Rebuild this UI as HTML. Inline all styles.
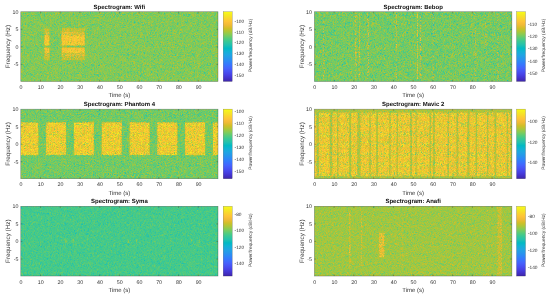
<!DOCTYPE html>
<html lang="en"><head><meta charset="utf-8"><title>Spectrograms</title>
<style>html,body{margin:0;padding:0;background:#fff;}svg{display:block;}text{font-family:"Liberation Sans", Arial, Helvetica, sans-serif;fill:#333333;text-rendering:geometricPrecision;}</style></head>
<body>
<svg width="550" height="297" viewBox="0 0 550 297">
<defs>
<linearGradient id="cb" x1="0" y1="1" x2="0" y2="0"><stop offset="0.0000" stop-color="#3e26a8"/><stop offset="0.0476" stop-color="#4332cb"/><stop offset="0.0952" stop-color="#4741e5"/><stop offset="0.1429" stop-color="#4852f4"/><stop offset="0.1905" stop-color="#4563fd"/><stop offset="0.2381" stop-color="#3875fe"/><stop offset="0.2857" stop-color="#2e87f7"/><stop offset="0.3333" stop-color="#2797eb"/><stop offset="0.3810" stop-color="#20a5e3"/><stop offset="0.4286" stop-color="#12b1d6"/><stop offset="0.4762" stop-color="#02bac3"/><stop offset="0.5238" stop-color="#24c1ae"/><stop offset="0.5714" stop-color="#37c897"/><stop offset="0.6190" stop-color="#57cc7a"/><stop offset="0.6667" stop-color="#81cc59"/><stop offset="0.7143" stop-color="#abc739"/><stop offset="0.7619" stop-color="#d1bf27"/><stop offset="0.8095" stop-color="#f0ba36"/><stop offset="0.8571" stop-color="#fec338"/><stop offset="0.9048" stop-color="#fad62d"/><stop offset="0.9524" stop-color="#f5e924"/><stop offset="1.0000" stop-color="#f9fb15"/></linearGradient>
<filter id="f0" x="0" y="0" width="1" height="1" filterUnits="objectBoundingBox" color-interpolation-filters="sRGB"><feTurbulence type="fractalNoise" baseFrequency="2.3 2.9" numOctaves="1" seed="3" result="n"/><feColorMatrix in="SourceGraphic" type="matrix" values="0 1 0 0 0 0 1 0 0 0 0 1 0 0 0 0 0 0 0 1" result="m"/><feColorMatrix in="SourceGraphic" type="matrix" values="1 0 0 0 0 1 0 0 0 0 1 0 0 0 0 0 0 0 0 1" result="l"/><feColorMatrix in="n" type="matrix" values="1 0 0 0 0 1 0 0 0 0 1 0 0 0 0 0 0 0 0 1"/><feComponentTransfer><feFuncR type="table" tableValues="0.179 0.179 0.179 0.179 0.210 0.245 0.278 0.308 0.337 0.363 0.388 0.411 0.433 0.453 0.472 0.490 0.506 0.522 0.537 0.551 0.564 0.577 0.589 0.600 0.611 0.621 0.631 0.639 0.639 0.639 0.639"/><feFuncG type="table" tableValues="0.179 0.179 0.179 0.179 0.210 0.245 0.278 0.308 0.337 0.363 0.388 0.411 0.433 0.453 0.472 0.490 0.506 0.522 0.537 0.551 0.564 0.577 0.589 0.600 0.611 0.621 0.631 0.639 0.639 0.639 0.639"/><feFuncB type="table" tableValues="0.179 0.179 0.179 0.179 0.210 0.245 0.278 0.308 0.337 0.363 0.388 0.411 0.433 0.453 0.472 0.490 0.506 0.522 0.537 0.551 0.564 0.577 0.589 0.600 0.611 0.621 0.631 0.639 0.639 0.639 0.639"/></feComponentTransfer><feComposite in="m" operator="arithmetic" k1="2" k2="-1" k3="0" k4="0.5" result="q"/><feComposite in="l" in2="q" operator="arithmetic" k1="0" k2="1" k3="0.9317" k4="-0.4658"/><feComponentTransfer result="cR"><feFuncR type="table" tableValues="0.242 0.250 0.258 0.265 0.271 0.275 0.278 0.280 0.281 0.281 0.280 0.276 0.270 0.260 0.244 0.221 0.196 0.183 0.179 0.176 0.169 0.154 0.146 0.138 0.125 0.111 0.095 0.069 0.030 0.004 0.007 0.043 0.096 0.141 0.172 0.194 0.216 0.247 0.291 0.341 0.391 0.446 0.504 0.562 0.617 0.672 0.724 0.774 0.820 0.863 0.903 0.939 0.973 0.996 0.997 0.995 0.989 0.979 0.968 0.961 0.960 0.963 0.969 0.977"/><feFuncG type="table" tableValues="0.150 0.165 0.182 0.198 0.215 0.234 0.256 0.278 0.301 0.323 0.345 0.367 0.389 0.412 0.436 0.460 0.485 0.507 0.529 0.550 0.570 0.590 0.609 0.628 0.646 0.663 0.680 0.695 0.708 0.720 0.731 0.741 0.750 0.758 0.767 0.776 0.784 0.792 0.797 0.801 0.803 0.802 0.799 0.794 0.788 0.779 0.770 0.760 0.750 0.741 0.733 0.729 0.730 0.743 0.766 0.789 0.814 0.839 0.864 0.889 0.913 0.937 0.961 0.984"/><feFuncB type="table" tableValues="0.660 0.708 0.751 0.795 0.836 0.871 0.899 0.922 0.941 0.958 0.972 0.983 0.991 0.995 0.999 0.997 0.989 0.980 0.968 0.952 0.936 0.922 0.908 0.897 0.888 0.876 0.860 0.839 0.816 0.792 0.766 0.739 0.712 0.684 0.655 0.625 0.592 0.557 0.519 0.479 0.435 0.391 0.348 0.304 0.261 0.223 0.191 0.165 0.153 0.160 0.177 0.210 0.239 0.237 0.220 0.203 0.189 0.177 0.164 0.154 0.142 0.127 0.106 0.081"/></feComponentTransfer><feColorMatrix in="n" type="matrix" values="0 1 0 0 0 0 1 0 0 0 0 1 0 0 0 0 0 0 0 1"/><feComponentTransfer><feFuncR type="table" tableValues="0.179 0.179 0.179 0.179 0.210 0.245 0.278 0.308 0.337 0.363 0.388 0.411 0.433 0.453 0.472 0.490 0.506 0.522 0.537 0.551 0.564 0.577 0.589 0.600 0.611 0.621 0.631 0.639 0.639 0.639 0.639"/><feFuncG type="table" tableValues="0.179 0.179 0.179 0.179 0.210 0.245 0.278 0.308 0.337 0.363 0.388 0.411 0.433 0.453 0.472 0.490 0.506 0.522 0.537 0.551 0.564 0.577 0.589 0.600 0.611 0.621 0.631 0.639 0.639 0.639 0.639"/><feFuncB type="table" tableValues="0.179 0.179 0.179 0.179 0.210 0.245 0.278 0.308 0.337 0.363 0.388 0.411 0.433 0.453 0.472 0.490 0.506 0.522 0.537 0.551 0.564 0.577 0.589 0.600 0.611 0.621 0.631 0.639 0.639 0.639 0.639"/></feComponentTransfer><feComposite in="m" operator="arithmetic" k1="2" k2="-1" k3="0" k4="0.5" result="q"/><feComposite in="l" in2="q" operator="arithmetic" k1="0" k2="1" k3="0.9317" k4="-0.4658"/><feComponentTransfer result="cG"><feFuncR type="table" tableValues="0.242 0.250 0.258 0.265 0.271 0.275 0.278 0.280 0.281 0.281 0.280 0.276 0.270 0.260 0.244 0.221 0.196 0.183 0.179 0.176 0.169 0.154 0.146 0.138 0.125 0.111 0.095 0.069 0.030 0.004 0.007 0.043 0.096 0.141 0.172 0.194 0.216 0.247 0.291 0.341 0.391 0.446 0.504 0.562 0.617 0.672 0.724 0.774 0.820 0.863 0.903 0.939 0.973 0.996 0.997 0.995 0.989 0.979 0.968 0.961 0.960 0.963 0.969 0.977"/><feFuncG type="table" tableValues="0.150 0.165 0.182 0.198 0.215 0.234 0.256 0.278 0.301 0.323 0.345 0.367 0.389 0.412 0.436 0.460 0.485 0.507 0.529 0.550 0.570 0.590 0.609 0.628 0.646 0.663 0.680 0.695 0.708 0.720 0.731 0.741 0.750 0.758 0.767 0.776 0.784 0.792 0.797 0.801 0.803 0.802 0.799 0.794 0.788 0.779 0.770 0.760 0.750 0.741 0.733 0.729 0.730 0.743 0.766 0.789 0.814 0.839 0.864 0.889 0.913 0.937 0.961 0.984"/><feFuncB type="table" tableValues="0.660 0.708 0.751 0.795 0.836 0.871 0.899 0.922 0.941 0.958 0.972 0.983 0.991 0.995 0.999 0.997 0.989 0.980 0.968 0.952 0.936 0.922 0.908 0.897 0.888 0.876 0.860 0.839 0.816 0.792 0.766 0.739 0.712 0.684 0.655 0.625 0.592 0.557 0.519 0.479 0.435 0.391 0.348 0.304 0.261 0.223 0.191 0.165 0.153 0.160 0.177 0.210 0.239 0.237 0.220 0.203 0.189 0.177 0.164 0.154 0.142 0.127 0.106 0.081"/></feComponentTransfer><feColorMatrix in="n" type="matrix" values="0 0 1 0 0 0 0 1 0 0 0 0 1 0 0 0 0 0 0 1"/><feComponentTransfer><feFuncR type="table" tableValues="0.179 0.179 0.179 0.179 0.210 0.245 0.278 0.308 0.337 0.363 0.388 0.411 0.433 0.453 0.472 0.490 0.506 0.522 0.537 0.551 0.564 0.577 0.589 0.600 0.611 0.621 0.631 0.639 0.639 0.639 0.639"/><feFuncG type="table" tableValues="0.179 0.179 0.179 0.179 0.210 0.245 0.278 0.308 0.337 0.363 0.388 0.411 0.433 0.453 0.472 0.490 0.506 0.522 0.537 0.551 0.564 0.577 0.589 0.600 0.611 0.621 0.631 0.639 0.639 0.639 0.639"/><feFuncB type="table" tableValues="0.179 0.179 0.179 0.179 0.210 0.245 0.278 0.308 0.337 0.363 0.388 0.411 0.433 0.453 0.472 0.490 0.506 0.522 0.537 0.551 0.564 0.577 0.589 0.600 0.611 0.621 0.631 0.639 0.639 0.639 0.639"/></feComponentTransfer><feComposite in="m" operator="arithmetic" k1="2" k2="-1" k3="0" k4="0.5" result="q"/><feComposite in="l" in2="q" operator="arithmetic" k1="0" k2="1" k3="0.9317" k4="-0.4658"/><feComponentTransfer result="cB"><feFuncR type="table" tableValues="0.242 0.250 0.258 0.265 0.271 0.275 0.278 0.280 0.281 0.281 0.280 0.276 0.270 0.260 0.244 0.221 0.196 0.183 0.179 0.176 0.169 0.154 0.146 0.138 0.125 0.111 0.095 0.069 0.030 0.004 0.007 0.043 0.096 0.141 0.172 0.194 0.216 0.247 0.291 0.341 0.391 0.446 0.504 0.562 0.617 0.672 0.724 0.774 0.820 0.863 0.903 0.939 0.973 0.996 0.997 0.995 0.989 0.979 0.968 0.961 0.960 0.963 0.969 0.977"/><feFuncG type="table" tableValues="0.150 0.165 0.182 0.198 0.215 0.234 0.256 0.278 0.301 0.323 0.345 0.367 0.389 0.412 0.436 0.460 0.485 0.507 0.529 0.550 0.570 0.590 0.609 0.628 0.646 0.663 0.680 0.695 0.708 0.720 0.731 0.741 0.750 0.758 0.767 0.776 0.784 0.792 0.797 0.801 0.803 0.802 0.799 0.794 0.788 0.779 0.770 0.760 0.750 0.741 0.733 0.729 0.730 0.743 0.766 0.789 0.814 0.839 0.864 0.889 0.913 0.937 0.961 0.984"/><feFuncB type="table" tableValues="0.660 0.708 0.751 0.795 0.836 0.871 0.899 0.922 0.941 0.958 0.972 0.983 0.991 0.995 0.999 0.997 0.989 0.980 0.968 0.952 0.936 0.922 0.908 0.897 0.888 0.876 0.860 0.839 0.816 0.792 0.766 0.739 0.712 0.684 0.655 0.625 0.592 0.557 0.519 0.479 0.435 0.391 0.348 0.304 0.261 0.223 0.191 0.165 0.153 0.160 0.177 0.210 0.239 0.237 0.220 0.203 0.189 0.177 0.164 0.154 0.142 0.127 0.106 0.081"/></feComponentTransfer><feComposite in="cR" in2="cG" operator="arithmetic" k1="0" k2="0.5" k3="0.5" k4="0"/><feComposite in2="cB" operator="arithmetic" k1="0" k2="0.6667" k3="0.3333" k4="0"/><feGaussianBlur stdDeviation="0.45"/></filter>
<filter id="f1" x="0" y="0" width="1" height="1" filterUnits="objectBoundingBox" color-interpolation-filters="sRGB"><feTurbulence type="fractalNoise" baseFrequency="2.3 2.9" numOctaves="1" seed="10" result="n"/><feColorMatrix in="SourceGraphic" type="matrix" values="0 1 0 0 0 0 1 0 0 0 0 1 0 0 0 0 0 0 0 1" result="m"/><feColorMatrix in="SourceGraphic" type="matrix" values="1 0 0 0 0 1 0 0 0 0 1 0 0 0 0 0 0 0 0 1" result="l"/><feColorMatrix in="n" type="matrix" values="1 0 0 0 0 1 0 0 0 0 1 0 0 0 0 0 0 0 0 1"/><feComponentTransfer><feFuncR type="table" tableValues="0.179 0.179 0.179 0.179 0.210 0.245 0.278 0.308 0.337 0.363 0.388 0.411 0.433 0.453 0.472 0.490 0.506 0.522 0.537 0.551 0.564 0.577 0.589 0.600 0.611 0.621 0.631 0.639 0.639 0.639 0.639"/><feFuncG type="table" tableValues="0.179 0.179 0.179 0.179 0.210 0.245 0.278 0.308 0.337 0.363 0.388 0.411 0.433 0.453 0.472 0.490 0.506 0.522 0.537 0.551 0.564 0.577 0.589 0.600 0.611 0.621 0.631 0.639 0.639 0.639 0.639"/><feFuncB type="table" tableValues="0.179 0.179 0.179 0.179 0.210 0.245 0.278 0.308 0.337 0.363 0.388 0.411 0.433 0.453 0.472 0.490 0.506 0.522 0.537 0.551 0.564 0.577 0.589 0.600 0.611 0.621 0.631 0.639 0.639 0.639 0.639"/></feComponentTransfer><feComposite in="m" operator="arithmetic" k1="2" k2="-1" k3="0" k4="0.5" result="q"/><feComposite in="l" in2="q" operator="arithmetic" k1="0" k2="1" k3="1.0676" k4="-0.5338"/><feComponentTransfer result="cR"><feFuncR type="table" tableValues="0.242 0.250 0.258 0.265 0.271 0.275 0.278 0.280 0.281 0.281 0.280 0.276 0.270 0.260 0.244 0.221 0.196 0.183 0.179 0.176 0.169 0.154 0.146 0.138 0.125 0.111 0.095 0.069 0.030 0.004 0.007 0.043 0.096 0.141 0.172 0.194 0.216 0.247 0.291 0.341 0.391 0.446 0.504 0.562 0.617 0.672 0.724 0.774 0.820 0.863 0.903 0.939 0.973 0.996 0.997 0.995 0.989 0.979 0.968 0.961 0.960 0.963 0.969 0.977"/><feFuncG type="table" tableValues="0.150 0.165 0.182 0.198 0.215 0.234 0.256 0.278 0.301 0.323 0.345 0.367 0.389 0.412 0.436 0.460 0.485 0.507 0.529 0.550 0.570 0.590 0.609 0.628 0.646 0.663 0.680 0.695 0.708 0.720 0.731 0.741 0.750 0.758 0.767 0.776 0.784 0.792 0.797 0.801 0.803 0.802 0.799 0.794 0.788 0.779 0.770 0.760 0.750 0.741 0.733 0.729 0.730 0.743 0.766 0.789 0.814 0.839 0.864 0.889 0.913 0.937 0.961 0.984"/><feFuncB type="table" tableValues="0.660 0.708 0.751 0.795 0.836 0.871 0.899 0.922 0.941 0.958 0.972 0.983 0.991 0.995 0.999 0.997 0.989 0.980 0.968 0.952 0.936 0.922 0.908 0.897 0.888 0.876 0.860 0.839 0.816 0.792 0.766 0.739 0.712 0.684 0.655 0.625 0.592 0.557 0.519 0.479 0.435 0.391 0.348 0.304 0.261 0.223 0.191 0.165 0.153 0.160 0.177 0.210 0.239 0.237 0.220 0.203 0.189 0.177 0.164 0.154 0.142 0.127 0.106 0.081"/></feComponentTransfer><feColorMatrix in="n" type="matrix" values="0 1 0 0 0 0 1 0 0 0 0 1 0 0 0 0 0 0 0 1"/><feComponentTransfer><feFuncR type="table" tableValues="0.179 0.179 0.179 0.179 0.210 0.245 0.278 0.308 0.337 0.363 0.388 0.411 0.433 0.453 0.472 0.490 0.506 0.522 0.537 0.551 0.564 0.577 0.589 0.600 0.611 0.621 0.631 0.639 0.639 0.639 0.639"/><feFuncG type="table" tableValues="0.179 0.179 0.179 0.179 0.210 0.245 0.278 0.308 0.337 0.363 0.388 0.411 0.433 0.453 0.472 0.490 0.506 0.522 0.537 0.551 0.564 0.577 0.589 0.600 0.611 0.621 0.631 0.639 0.639 0.639 0.639"/><feFuncB type="table" tableValues="0.179 0.179 0.179 0.179 0.210 0.245 0.278 0.308 0.337 0.363 0.388 0.411 0.433 0.453 0.472 0.490 0.506 0.522 0.537 0.551 0.564 0.577 0.589 0.600 0.611 0.621 0.631 0.639 0.639 0.639 0.639"/></feComponentTransfer><feComposite in="m" operator="arithmetic" k1="2" k2="-1" k3="0" k4="0.5" result="q"/><feComposite in="l" in2="q" operator="arithmetic" k1="0" k2="1" k3="1.0676" k4="-0.5338"/><feComponentTransfer result="cG"><feFuncR type="table" tableValues="0.242 0.250 0.258 0.265 0.271 0.275 0.278 0.280 0.281 0.281 0.280 0.276 0.270 0.260 0.244 0.221 0.196 0.183 0.179 0.176 0.169 0.154 0.146 0.138 0.125 0.111 0.095 0.069 0.030 0.004 0.007 0.043 0.096 0.141 0.172 0.194 0.216 0.247 0.291 0.341 0.391 0.446 0.504 0.562 0.617 0.672 0.724 0.774 0.820 0.863 0.903 0.939 0.973 0.996 0.997 0.995 0.989 0.979 0.968 0.961 0.960 0.963 0.969 0.977"/><feFuncG type="table" tableValues="0.150 0.165 0.182 0.198 0.215 0.234 0.256 0.278 0.301 0.323 0.345 0.367 0.389 0.412 0.436 0.460 0.485 0.507 0.529 0.550 0.570 0.590 0.609 0.628 0.646 0.663 0.680 0.695 0.708 0.720 0.731 0.741 0.750 0.758 0.767 0.776 0.784 0.792 0.797 0.801 0.803 0.802 0.799 0.794 0.788 0.779 0.770 0.760 0.750 0.741 0.733 0.729 0.730 0.743 0.766 0.789 0.814 0.839 0.864 0.889 0.913 0.937 0.961 0.984"/><feFuncB type="table" tableValues="0.660 0.708 0.751 0.795 0.836 0.871 0.899 0.922 0.941 0.958 0.972 0.983 0.991 0.995 0.999 0.997 0.989 0.980 0.968 0.952 0.936 0.922 0.908 0.897 0.888 0.876 0.860 0.839 0.816 0.792 0.766 0.739 0.712 0.684 0.655 0.625 0.592 0.557 0.519 0.479 0.435 0.391 0.348 0.304 0.261 0.223 0.191 0.165 0.153 0.160 0.177 0.210 0.239 0.237 0.220 0.203 0.189 0.177 0.164 0.154 0.142 0.127 0.106 0.081"/></feComponentTransfer><feColorMatrix in="n" type="matrix" values="0 0 1 0 0 0 0 1 0 0 0 0 1 0 0 0 0 0 0 1"/><feComponentTransfer><feFuncR type="table" tableValues="0.179 0.179 0.179 0.179 0.210 0.245 0.278 0.308 0.337 0.363 0.388 0.411 0.433 0.453 0.472 0.490 0.506 0.522 0.537 0.551 0.564 0.577 0.589 0.600 0.611 0.621 0.631 0.639 0.639 0.639 0.639"/><feFuncG type="table" tableValues="0.179 0.179 0.179 0.179 0.210 0.245 0.278 0.308 0.337 0.363 0.388 0.411 0.433 0.453 0.472 0.490 0.506 0.522 0.537 0.551 0.564 0.577 0.589 0.600 0.611 0.621 0.631 0.639 0.639 0.639 0.639"/><feFuncB type="table" tableValues="0.179 0.179 0.179 0.179 0.210 0.245 0.278 0.308 0.337 0.363 0.388 0.411 0.433 0.453 0.472 0.490 0.506 0.522 0.537 0.551 0.564 0.577 0.589 0.600 0.611 0.621 0.631 0.639 0.639 0.639 0.639"/></feComponentTransfer><feComposite in="m" operator="arithmetic" k1="2" k2="-1" k3="0" k4="0.5" result="q"/><feComposite in="l" in2="q" operator="arithmetic" k1="0" k2="1" k3="1.0676" k4="-0.5338"/><feComponentTransfer result="cB"><feFuncR type="table" tableValues="0.242 0.250 0.258 0.265 0.271 0.275 0.278 0.280 0.281 0.281 0.280 0.276 0.270 0.260 0.244 0.221 0.196 0.183 0.179 0.176 0.169 0.154 0.146 0.138 0.125 0.111 0.095 0.069 0.030 0.004 0.007 0.043 0.096 0.141 0.172 0.194 0.216 0.247 0.291 0.341 0.391 0.446 0.504 0.562 0.617 0.672 0.724 0.774 0.820 0.863 0.903 0.939 0.973 0.996 0.997 0.995 0.989 0.979 0.968 0.961 0.960 0.963 0.969 0.977"/><feFuncG type="table" tableValues="0.150 0.165 0.182 0.198 0.215 0.234 0.256 0.278 0.301 0.323 0.345 0.367 0.389 0.412 0.436 0.460 0.485 0.507 0.529 0.550 0.570 0.590 0.609 0.628 0.646 0.663 0.680 0.695 0.708 0.720 0.731 0.741 0.750 0.758 0.767 0.776 0.784 0.792 0.797 0.801 0.803 0.802 0.799 0.794 0.788 0.779 0.770 0.760 0.750 0.741 0.733 0.729 0.730 0.743 0.766 0.789 0.814 0.839 0.864 0.889 0.913 0.937 0.961 0.984"/><feFuncB type="table" tableValues="0.660 0.708 0.751 0.795 0.836 0.871 0.899 0.922 0.941 0.958 0.972 0.983 0.991 0.995 0.999 0.997 0.989 0.980 0.968 0.952 0.936 0.922 0.908 0.897 0.888 0.876 0.860 0.839 0.816 0.792 0.766 0.739 0.712 0.684 0.655 0.625 0.592 0.557 0.519 0.479 0.435 0.391 0.348 0.304 0.261 0.223 0.191 0.165 0.153 0.160 0.177 0.210 0.239 0.237 0.220 0.203 0.189 0.177 0.164 0.154 0.142 0.127 0.106 0.081"/></feComponentTransfer><feComposite in="cR" in2="cG" operator="arithmetic" k1="0" k2="0.5" k3="0.5" k4="0"/><feComposite in2="cB" operator="arithmetic" k1="0" k2="0.6667" k3="0.3333" k4="0"/><feGaussianBlur stdDeviation="0.45"/></filter>
<filter id="f2" x="0" y="0" width="1" height="1" filterUnits="objectBoundingBox" color-interpolation-filters="sRGB"><feTurbulence type="fractalNoise" baseFrequency="2.3 2.9" numOctaves="1" seed="17" result="n"/><feColorMatrix in="SourceGraphic" type="matrix" values="0 1 0 0 0 0 1 0 0 0 0 1 0 0 0 0 0 0 0 1" result="m"/><feColorMatrix in="SourceGraphic" type="matrix" values="1 0 0 0 0 1 0 0 0 0 1 0 0 0 0 0 0 0 0 1" result="l"/><feColorMatrix in="n" type="matrix" values="1 0 0 0 0 1 0 0 0 0 1 0 0 0 0 0 0 0 0 1"/><feComponentTransfer><feFuncR type="table" tableValues="0.179 0.179 0.179 0.179 0.210 0.245 0.278 0.308 0.337 0.363 0.388 0.411 0.433 0.453 0.472 0.490 0.506 0.522 0.537 0.551 0.564 0.577 0.589 0.600 0.611 0.621 0.631 0.639 0.639 0.639 0.639"/><feFuncG type="table" tableValues="0.179 0.179 0.179 0.179 0.210 0.245 0.278 0.308 0.337 0.363 0.388 0.411 0.433 0.453 0.472 0.490 0.506 0.522 0.537 0.551 0.564 0.577 0.589 0.600 0.611 0.621 0.631 0.639 0.639 0.639 0.639"/><feFuncB type="table" tableValues="0.179 0.179 0.179 0.179 0.210 0.245 0.278 0.308 0.337 0.363 0.388 0.411 0.433 0.453 0.472 0.490 0.506 0.522 0.537 0.551 0.564 0.577 0.589 0.600 0.611 0.621 0.631 0.639 0.639 0.639 0.639"/></feComponentTransfer><feComposite in="m" operator="arithmetic" k1="2" k2="-1" k3="0" k4="0.5" result="q"/><feComposite in="l" in2="q" operator="arithmetic" k1="0" k2="1" k3="1.0417" k4="-0.5208"/><feComponentTransfer result="cR"><feFuncR type="table" tableValues="0.242 0.250 0.258 0.265 0.271 0.275 0.278 0.280 0.281 0.281 0.280 0.276 0.270 0.260 0.244 0.221 0.196 0.183 0.179 0.176 0.169 0.154 0.146 0.138 0.125 0.111 0.095 0.069 0.030 0.004 0.007 0.043 0.096 0.141 0.172 0.194 0.216 0.247 0.291 0.341 0.391 0.446 0.504 0.562 0.617 0.672 0.724 0.774 0.820 0.863 0.903 0.939 0.973 0.996 0.997 0.995 0.989 0.979 0.968 0.961 0.960 0.963 0.969 0.977"/><feFuncG type="table" tableValues="0.150 0.165 0.182 0.198 0.215 0.234 0.256 0.278 0.301 0.323 0.345 0.367 0.389 0.412 0.436 0.460 0.485 0.507 0.529 0.550 0.570 0.590 0.609 0.628 0.646 0.663 0.680 0.695 0.708 0.720 0.731 0.741 0.750 0.758 0.767 0.776 0.784 0.792 0.797 0.801 0.803 0.802 0.799 0.794 0.788 0.779 0.770 0.760 0.750 0.741 0.733 0.729 0.730 0.743 0.766 0.789 0.814 0.839 0.864 0.889 0.913 0.937 0.961 0.984"/><feFuncB type="table" tableValues="0.660 0.708 0.751 0.795 0.836 0.871 0.899 0.922 0.941 0.958 0.972 0.983 0.991 0.995 0.999 0.997 0.989 0.980 0.968 0.952 0.936 0.922 0.908 0.897 0.888 0.876 0.860 0.839 0.816 0.792 0.766 0.739 0.712 0.684 0.655 0.625 0.592 0.557 0.519 0.479 0.435 0.391 0.348 0.304 0.261 0.223 0.191 0.165 0.153 0.160 0.177 0.210 0.239 0.237 0.220 0.203 0.189 0.177 0.164 0.154 0.142 0.127 0.106 0.081"/></feComponentTransfer><feColorMatrix in="n" type="matrix" values="0 1 0 0 0 0 1 0 0 0 0 1 0 0 0 0 0 0 0 1"/><feComponentTransfer><feFuncR type="table" tableValues="0.179 0.179 0.179 0.179 0.210 0.245 0.278 0.308 0.337 0.363 0.388 0.411 0.433 0.453 0.472 0.490 0.506 0.522 0.537 0.551 0.564 0.577 0.589 0.600 0.611 0.621 0.631 0.639 0.639 0.639 0.639"/><feFuncG type="table" tableValues="0.179 0.179 0.179 0.179 0.210 0.245 0.278 0.308 0.337 0.363 0.388 0.411 0.433 0.453 0.472 0.490 0.506 0.522 0.537 0.551 0.564 0.577 0.589 0.600 0.611 0.621 0.631 0.639 0.639 0.639 0.639"/><feFuncB type="table" tableValues="0.179 0.179 0.179 0.179 0.210 0.245 0.278 0.308 0.337 0.363 0.388 0.411 0.433 0.453 0.472 0.490 0.506 0.522 0.537 0.551 0.564 0.577 0.589 0.600 0.611 0.621 0.631 0.639 0.639 0.639 0.639"/></feComponentTransfer><feComposite in="m" operator="arithmetic" k1="2" k2="-1" k3="0" k4="0.5" result="q"/><feComposite in="l" in2="q" operator="arithmetic" k1="0" k2="1" k3="1.0417" k4="-0.5208"/><feComponentTransfer result="cG"><feFuncR type="table" tableValues="0.242 0.250 0.258 0.265 0.271 0.275 0.278 0.280 0.281 0.281 0.280 0.276 0.270 0.260 0.244 0.221 0.196 0.183 0.179 0.176 0.169 0.154 0.146 0.138 0.125 0.111 0.095 0.069 0.030 0.004 0.007 0.043 0.096 0.141 0.172 0.194 0.216 0.247 0.291 0.341 0.391 0.446 0.504 0.562 0.617 0.672 0.724 0.774 0.820 0.863 0.903 0.939 0.973 0.996 0.997 0.995 0.989 0.979 0.968 0.961 0.960 0.963 0.969 0.977"/><feFuncG type="table" tableValues="0.150 0.165 0.182 0.198 0.215 0.234 0.256 0.278 0.301 0.323 0.345 0.367 0.389 0.412 0.436 0.460 0.485 0.507 0.529 0.550 0.570 0.590 0.609 0.628 0.646 0.663 0.680 0.695 0.708 0.720 0.731 0.741 0.750 0.758 0.767 0.776 0.784 0.792 0.797 0.801 0.803 0.802 0.799 0.794 0.788 0.779 0.770 0.760 0.750 0.741 0.733 0.729 0.730 0.743 0.766 0.789 0.814 0.839 0.864 0.889 0.913 0.937 0.961 0.984"/><feFuncB type="table" tableValues="0.660 0.708 0.751 0.795 0.836 0.871 0.899 0.922 0.941 0.958 0.972 0.983 0.991 0.995 0.999 0.997 0.989 0.980 0.968 0.952 0.936 0.922 0.908 0.897 0.888 0.876 0.860 0.839 0.816 0.792 0.766 0.739 0.712 0.684 0.655 0.625 0.592 0.557 0.519 0.479 0.435 0.391 0.348 0.304 0.261 0.223 0.191 0.165 0.153 0.160 0.177 0.210 0.239 0.237 0.220 0.203 0.189 0.177 0.164 0.154 0.142 0.127 0.106 0.081"/></feComponentTransfer><feColorMatrix in="n" type="matrix" values="0 0 1 0 0 0 0 1 0 0 0 0 1 0 0 0 0 0 0 1"/><feComponentTransfer><feFuncR type="table" tableValues="0.179 0.179 0.179 0.179 0.210 0.245 0.278 0.308 0.337 0.363 0.388 0.411 0.433 0.453 0.472 0.490 0.506 0.522 0.537 0.551 0.564 0.577 0.589 0.600 0.611 0.621 0.631 0.639 0.639 0.639 0.639"/><feFuncG type="table" tableValues="0.179 0.179 0.179 0.179 0.210 0.245 0.278 0.308 0.337 0.363 0.388 0.411 0.433 0.453 0.472 0.490 0.506 0.522 0.537 0.551 0.564 0.577 0.589 0.600 0.611 0.621 0.631 0.639 0.639 0.639 0.639"/><feFuncB type="table" tableValues="0.179 0.179 0.179 0.179 0.210 0.245 0.278 0.308 0.337 0.363 0.388 0.411 0.433 0.453 0.472 0.490 0.506 0.522 0.537 0.551 0.564 0.577 0.589 0.600 0.611 0.621 0.631 0.639 0.639 0.639 0.639"/></feComponentTransfer><feComposite in="m" operator="arithmetic" k1="2" k2="-1" k3="0" k4="0.5" result="q"/><feComposite in="l" in2="q" operator="arithmetic" k1="0" k2="1" k3="1.0417" k4="-0.5208"/><feComponentTransfer result="cB"><feFuncR type="table" tableValues="0.242 0.250 0.258 0.265 0.271 0.275 0.278 0.280 0.281 0.281 0.280 0.276 0.270 0.260 0.244 0.221 0.196 0.183 0.179 0.176 0.169 0.154 0.146 0.138 0.125 0.111 0.095 0.069 0.030 0.004 0.007 0.043 0.096 0.141 0.172 0.194 0.216 0.247 0.291 0.341 0.391 0.446 0.504 0.562 0.617 0.672 0.724 0.774 0.820 0.863 0.903 0.939 0.973 0.996 0.997 0.995 0.989 0.979 0.968 0.961 0.960 0.963 0.969 0.977"/><feFuncG type="table" tableValues="0.150 0.165 0.182 0.198 0.215 0.234 0.256 0.278 0.301 0.323 0.345 0.367 0.389 0.412 0.436 0.460 0.485 0.507 0.529 0.550 0.570 0.590 0.609 0.628 0.646 0.663 0.680 0.695 0.708 0.720 0.731 0.741 0.750 0.758 0.767 0.776 0.784 0.792 0.797 0.801 0.803 0.802 0.799 0.794 0.788 0.779 0.770 0.760 0.750 0.741 0.733 0.729 0.730 0.743 0.766 0.789 0.814 0.839 0.864 0.889 0.913 0.937 0.961 0.984"/><feFuncB type="table" tableValues="0.660 0.708 0.751 0.795 0.836 0.871 0.899 0.922 0.941 0.958 0.972 0.983 0.991 0.995 0.999 0.997 0.989 0.980 0.968 0.952 0.936 0.922 0.908 0.897 0.888 0.876 0.860 0.839 0.816 0.792 0.766 0.739 0.712 0.684 0.655 0.625 0.592 0.557 0.519 0.479 0.435 0.391 0.348 0.304 0.261 0.223 0.191 0.165 0.153 0.160 0.177 0.210 0.239 0.237 0.220 0.203 0.189 0.177 0.164 0.154 0.142 0.127 0.106 0.081"/></feComponentTransfer><feComposite in="cR" in2="cG" operator="arithmetic" k1="0" k2="0.5" k3="0.5" k4="0"/><feComposite in2="cB" operator="arithmetic" k1="0" k2="0.6667" k3="0.3333" k4="0"/><feGaussianBlur stdDeviation="0.45"/></filter>
<filter id="f3" x="0" y="0" width="1" height="1" filterUnits="objectBoundingBox" color-interpolation-filters="sRGB"><feTurbulence type="fractalNoise" baseFrequency="2.3 2.9" numOctaves="1" seed="24" result="n"/><feColorMatrix in="SourceGraphic" type="matrix" values="0 1 0 0 0 0 1 0 0 0 0 1 0 0 0 0 0 0 0 1" result="m"/><feColorMatrix in="SourceGraphic" type="matrix" values="1 0 0 0 0 1 0 0 0 0 1 0 0 0 0 0 0 0 0 1" result="l"/><feColorMatrix in="n" type="matrix" values="1 0 0 0 0 1 0 0 0 0 1 0 0 0 0 0 0 0 0 1"/><feComponentTransfer><feFuncR type="table" tableValues="0.179 0.179 0.179 0.179 0.210 0.245 0.278 0.308 0.337 0.363 0.388 0.411 0.433 0.453 0.472 0.490 0.506 0.522 0.537 0.551 0.564 0.577 0.589 0.600 0.611 0.621 0.631 0.639 0.639 0.639 0.639"/><feFuncG type="table" tableValues="0.179 0.179 0.179 0.179 0.210 0.245 0.278 0.308 0.337 0.363 0.388 0.411 0.433 0.453 0.472 0.490 0.506 0.522 0.537 0.551 0.564 0.577 0.589 0.600 0.611 0.621 0.631 0.639 0.639 0.639 0.639"/><feFuncB type="table" tableValues="0.179 0.179 0.179 0.179 0.210 0.245 0.278 0.308 0.337 0.363 0.388 0.411 0.433 0.453 0.472 0.490 0.506 0.522 0.537 0.551 0.564 0.577 0.589 0.600 0.611 0.621 0.631 0.639 0.639 0.639 0.639"/></feComponentTransfer><feComposite in="m" operator="arithmetic" k1="2" k2="-1" k3="0" k4="0.5" result="q"/><feComposite in="l" in2="q" operator="arithmetic" k1="0" k2="1" k3="0.8955" k4="-0.4478"/><feComponentTransfer result="cR"><feFuncR type="table" tableValues="0.242 0.250 0.258 0.265 0.271 0.275 0.278 0.280 0.281 0.281 0.280 0.276 0.270 0.260 0.244 0.221 0.196 0.183 0.179 0.176 0.169 0.154 0.146 0.138 0.125 0.111 0.095 0.069 0.030 0.004 0.007 0.043 0.096 0.141 0.172 0.194 0.216 0.247 0.291 0.341 0.391 0.446 0.504 0.562 0.617 0.672 0.724 0.774 0.820 0.863 0.903 0.939 0.973 0.996 0.997 0.995 0.989 0.979 0.968 0.961 0.960 0.963 0.969 0.977"/><feFuncG type="table" tableValues="0.150 0.165 0.182 0.198 0.215 0.234 0.256 0.278 0.301 0.323 0.345 0.367 0.389 0.412 0.436 0.460 0.485 0.507 0.529 0.550 0.570 0.590 0.609 0.628 0.646 0.663 0.680 0.695 0.708 0.720 0.731 0.741 0.750 0.758 0.767 0.776 0.784 0.792 0.797 0.801 0.803 0.802 0.799 0.794 0.788 0.779 0.770 0.760 0.750 0.741 0.733 0.729 0.730 0.743 0.766 0.789 0.814 0.839 0.864 0.889 0.913 0.937 0.961 0.984"/><feFuncB type="table" tableValues="0.660 0.708 0.751 0.795 0.836 0.871 0.899 0.922 0.941 0.958 0.972 0.983 0.991 0.995 0.999 0.997 0.989 0.980 0.968 0.952 0.936 0.922 0.908 0.897 0.888 0.876 0.860 0.839 0.816 0.792 0.766 0.739 0.712 0.684 0.655 0.625 0.592 0.557 0.519 0.479 0.435 0.391 0.348 0.304 0.261 0.223 0.191 0.165 0.153 0.160 0.177 0.210 0.239 0.237 0.220 0.203 0.189 0.177 0.164 0.154 0.142 0.127 0.106 0.081"/></feComponentTransfer><feColorMatrix in="n" type="matrix" values="0 1 0 0 0 0 1 0 0 0 0 1 0 0 0 0 0 0 0 1"/><feComponentTransfer><feFuncR type="table" tableValues="0.179 0.179 0.179 0.179 0.210 0.245 0.278 0.308 0.337 0.363 0.388 0.411 0.433 0.453 0.472 0.490 0.506 0.522 0.537 0.551 0.564 0.577 0.589 0.600 0.611 0.621 0.631 0.639 0.639 0.639 0.639"/><feFuncG type="table" tableValues="0.179 0.179 0.179 0.179 0.210 0.245 0.278 0.308 0.337 0.363 0.388 0.411 0.433 0.453 0.472 0.490 0.506 0.522 0.537 0.551 0.564 0.577 0.589 0.600 0.611 0.621 0.631 0.639 0.639 0.639 0.639"/><feFuncB type="table" tableValues="0.179 0.179 0.179 0.179 0.210 0.245 0.278 0.308 0.337 0.363 0.388 0.411 0.433 0.453 0.472 0.490 0.506 0.522 0.537 0.551 0.564 0.577 0.589 0.600 0.611 0.621 0.631 0.639 0.639 0.639 0.639"/></feComponentTransfer><feComposite in="m" operator="arithmetic" k1="2" k2="-1" k3="0" k4="0.5" result="q"/><feComposite in="l" in2="q" operator="arithmetic" k1="0" k2="1" k3="0.8955" k4="-0.4478"/><feComponentTransfer result="cG"><feFuncR type="table" tableValues="0.242 0.250 0.258 0.265 0.271 0.275 0.278 0.280 0.281 0.281 0.280 0.276 0.270 0.260 0.244 0.221 0.196 0.183 0.179 0.176 0.169 0.154 0.146 0.138 0.125 0.111 0.095 0.069 0.030 0.004 0.007 0.043 0.096 0.141 0.172 0.194 0.216 0.247 0.291 0.341 0.391 0.446 0.504 0.562 0.617 0.672 0.724 0.774 0.820 0.863 0.903 0.939 0.973 0.996 0.997 0.995 0.989 0.979 0.968 0.961 0.960 0.963 0.969 0.977"/><feFuncG type="table" tableValues="0.150 0.165 0.182 0.198 0.215 0.234 0.256 0.278 0.301 0.323 0.345 0.367 0.389 0.412 0.436 0.460 0.485 0.507 0.529 0.550 0.570 0.590 0.609 0.628 0.646 0.663 0.680 0.695 0.708 0.720 0.731 0.741 0.750 0.758 0.767 0.776 0.784 0.792 0.797 0.801 0.803 0.802 0.799 0.794 0.788 0.779 0.770 0.760 0.750 0.741 0.733 0.729 0.730 0.743 0.766 0.789 0.814 0.839 0.864 0.889 0.913 0.937 0.961 0.984"/><feFuncB type="table" tableValues="0.660 0.708 0.751 0.795 0.836 0.871 0.899 0.922 0.941 0.958 0.972 0.983 0.991 0.995 0.999 0.997 0.989 0.980 0.968 0.952 0.936 0.922 0.908 0.897 0.888 0.876 0.860 0.839 0.816 0.792 0.766 0.739 0.712 0.684 0.655 0.625 0.592 0.557 0.519 0.479 0.435 0.391 0.348 0.304 0.261 0.223 0.191 0.165 0.153 0.160 0.177 0.210 0.239 0.237 0.220 0.203 0.189 0.177 0.164 0.154 0.142 0.127 0.106 0.081"/></feComponentTransfer><feColorMatrix in="n" type="matrix" values="0 0 1 0 0 0 0 1 0 0 0 0 1 0 0 0 0 0 0 1"/><feComponentTransfer><feFuncR type="table" tableValues="0.179 0.179 0.179 0.179 0.210 0.245 0.278 0.308 0.337 0.363 0.388 0.411 0.433 0.453 0.472 0.490 0.506 0.522 0.537 0.551 0.564 0.577 0.589 0.600 0.611 0.621 0.631 0.639 0.639 0.639 0.639"/><feFuncG type="table" tableValues="0.179 0.179 0.179 0.179 0.210 0.245 0.278 0.308 0.337 0.363 0.388 0.411 0.433 0.453 0.472 0.490 0.506 0.522 0.537 0.551 0.564 0.577 0.589 0.600 0.611 0.621 0.631 0.639 0.639 0.639 0.639"/><feFuncB type="table" tableValues="0.179 0.179 0.179 0.179 0.210 0.245 0.278 0.308 0.337 0.363 0.388 0.411 0.433 0.453 0.472 0.490 0.506 0.522 0.537 0.551 0.564 0.577 0.589 0.600 0.611 0.621 0.631 0.639 0.639 0.639 0.639"/></feComponentTransfer><feComposite in="m" operator="arithmetic" k1="2" k2="-1" k3="0" k4="0.5" result="q"/><feComposite in="l" in2="q" operator="arithmetic" k1="0" k2="1" k3="0.8955" k4="-0.4478"/><feComponentTransfer result="cB"><feFuncR type="table" tableValues="0.242 0.250 0.258 0.265 0.271 0.275 0.278 0.280 0.281 0.281 0.280 0.276 0.270 0.260 0.244 0.221 0.196 0.183 0.179 0.176 0.169 0.154 0.146 0.138 0.125 0.111 0.095 0.069 0.030 0.004 0.007 0.043 0.096 0.141 0.172 0.194 0.216 0.247 0.291 0.341 0.391 0.446 0.504 0.562 0.617 0.672 0.724 0.774 0.820 0.863 0.903 0.939 0.973 0.996 0.997 0.995 0.989 0.979 0.968 0.961 0.960 0.963 0.969 0.977"/><feFuncG type="table" tableValues="0.150 0.165 0.182 0.198 0.215 0.234 0.256 0.278 0.301 0.323 0.345 0.367 0.389 0.412 0.436 0.460 0.485 0.507 0.529 0.550 0.570 0.590 0.609 0.628 0.646 0.663 0.680 0.695 0.708 0.720 0.731 0.741 0.750 0.758 0.767 0.776 0.784 0.792 0.797 0.801 0.803 0.802 0.799 0.794 0.788 0.779 0.770 0.760 0.750 0.741 0.733 0.729 0.730 0.743 0.766 0.789 0.814 0.839 0.864 0.889 0.913 0.937 0.961 0.984"/><feFuncB type="table" tableValues="0.660 0.708 0.751 0.795 0.836 0.871 0.899 0.922 0.941 0.958 0.972 0.983 0.991 0.995 0.999 0.997 0.989 0.980 0.968 0.952 0.936 0.922 0.908 0.897 0.888 0.876 0.860 0.839 0.816 0.792 0.766 0.739 0.712 0.684 0.655 0.625 0.592 0.557 0.519 0.479 0.435 0.391 0.348 0.304 0.261 0.223 0.191 0.165 0.153 0.160 0.177 0.210 0.239 0.237 0.220 0.203 0.189 0.177 0.164 0.154 0.142 0.127 0.106 0.081"/></feComponentTransfer><feComposite in="cR" in2="cG" operator="arithmetic" k1="0" k2="0.5" k3="0.5" k4="0"/><feComposite in2="cB" operator="arithmetic" k1="0" k2="0.6667" k3="0.3333" k4="0"/><feGaussianBlur stdDeviation="0.45"/></filter>
<filter id="f4" x="0" y="0" width="1" height="1" filterUnits="objectBoundingBox" color-interpolation-filters="sRGB"><feTurbulence type="fractalNoise" baseFrequency="2.3 2.9" numOctaves="1" seed="31" result="n"/><feColorMatrix in="SourceGraphic" type="matrix" values="0 1 0 0 0 0 1 0 0 0 0 1 0 0 0 0 0 0 0 1" result="m"/><feColorMatrix in="SourceGraphic" type="matrix" values="1 0 0 0 0 1 0 0 0 0 1 0 0 0 0 0 0 0 0 1" result="l"/><feColorMatrix in="n" type="matrix" values="1 0 0 0 0 1 0 0 0 0 1 0 0 0 0 0 0 0 0 1"/><feComponentTransfer><feFuncR type="table" tableValues="0.179 0.179 0.179 0.179 0.210 0.245 0.278 0.308 0.337 0.363 0.388 0.411 0.433 0.453 0.472 0.490 0.506 0.522 0.537 0.551 0.564 0.577 0.589 0.600 0.611 0.621 0.631 0.639 0.639 0.639 0.639"/><feFuncG type="table" tableValues="0.179 0.179 0.179 0.179 0.210 0.245 0.278 0.308 0.337 0.363 0.388 0.411 0.433 0.453 0.472 0.490 0.506 0.522 0.537 0.551 0.564 0.577 0.589 0.600 0.611 0.621 0.631 0.639 0.639 0.639 0.639"/><feFuncB type="table" tableValues="0.179 0.179 0.179 0.179 0.210 0.245 0.278 0.308 0.337 0.363 0.388 0.411 0.433 0.453 0.472 0.490 0.506 0.522 0.537 0.551 0.564 0.577 0.589 0.600 0.611 0.621 0.631 0.639 0.639 0.639 0.639"/></feComponentTransfer><feComposite in="m" operator="arithmetic" k1="2" k2="-1" k3="0" k4="0.5" result="q"/><feComposite in="l" in2="q" operator="arithmetic" k1="0" k2="1" k3="0.7059" k4="-0.3529"/><feComponentTransfer result="cR"><feFuncR type="table" tableValues="0.242 0.250 0.258 0.265 0.271 0.275 0.278 0.280 0.281 0.281 0.280 0.276 0.270 0.260 0.244 0.221 0.196 0.183 0.179 0.176 0.169 0.154 0.146 0.138 0.125 0.111 0.095 0.069 0.030 0.004 0.007 0.043 0.096 0.141 0.172 0.194 0.216 0.247 0.291 0.341 0.391 0.446 0.504 0.562 0.617 0.672 0.724 0.774 0.820 0.863 0.903 0.939 0.973 0.996 0.997 0.995 0.989 0.979 0.968 0.961 0.960 0.963 0.969 0.977"/><feFuncG type="table" tableValues="0.150 0.165 0.182 0.198 0.215 0.234 0.256 0.278 0.301 0.323 0.345 0.367 0.389 0.412 0.436 0.460 0.485 0.507 0.529 0.550 0.570 0.590 0.609 0.628 0.646 0.663 0.680 0.695 0.708 0.720 0.731 0.741 0.750 0.758 0.767 0.776 0.784 0.792 0.797 0.801 0.803 0.802 0.799 0.794 0.788 0.779 0.770 0.760 0.750 0.741 0.733 0.729 0.730 0.743 0.766 0.789 0.814 0.839 0.864 0.889 0.913 0.937 0.961 0.984"/><feFuncB type="table" tableValues="0.660 0.708 0.751 0.795 0.836 0.871 0.899 0.922 0.941 0.958 0.972 0.983 0.991 0.995 0.999 0.997 0.989 0.980 0.968 0.952 0.936 0.922 0.908 0.897 0.888 0.876 0.860 0.839 0.816 0.792 0.766 0.739 0.712 0.684 0.655 0.625 0.592 0.557 0.519 0.479 0.435 0.391 0.348 0.304 0.261 0.223 0.191 0.165 0.153 0.160 0.177 0.210 0.239 0.237 0.220 0.203 0.189 0.177 0.164 0.154 0.142 0.127 0.106 0.081"/></feComponentTransfer><feColorMatrix in="n" type="matrix" values="0 1 0 0 0 0 1 0 0 0 0 1 0 0 0 0 0 0 0 1"/><feComponentTransfer><feFuncR type="table" tableValues="0.179 0.179 0.179 0.179 0.210 0.245 0.278 0.308 0.337 0.363 0.388 0.411 0.433 0.453 0.472 0.490 0.506 0.522 0.537 0.551 0.564 0.577 0.589 0.600 0.611 0.621 0.631 0.639 0.639 0.639 0.639"/><feFuncG type="table" tableValues="0.179 0.179 0.179 0.179 0.210 0.245 0.278 0.308 0.337 0.363 0.388 0.411 0.433 0.453 0.472 0.490 0.506 0.522 0.537 0.551 0.564 0.577 0.589 0.600 0.611 0.621 0.631 0.639 0.639 0.639 0.639"/><feFuncB type="table" tableValues="0.179 0.179 0.179 0.179 0.210 0.245 0.278 0.308 0.337 0.363 0.388 0.411 0.433 0.453 0.472 0.490 0.506 0.522 0.537 0.551 0.564 0.577 0.589 0.600 0.611 0.621 0.631 0.639 0.639 0.639 0.639"/></feComponentTransfer><feComposite in="m" operator="arithmetic" k1="2" k2="-1" k3="0" k4="0.5" result="q"/><feComposite in="l" in2="q" operator="arithmetic" k1="0" k2="1" k3="0.7059" k4="-0.3529"/><feComponentTransfer result="cG"><feFuncR type="table" tableValues="0.242 0.250 0.258 0.265 0.271 0.275 0.278 0.280 0.281 0.281 0.280 0.276 0.270 0.260 0.244 0.221 0.196 0.183 0.179 0.176 0.169 0.154 0.146 0.138 0.125 0.111 0.095 0.069 0.030 0.004 0.007 0.043 0.096 0.141 0.172 0.194 0.216 0.247 0.291 0.341 0.391 0.446 0.504 0.562 0.617 0.672 0.724 0.774 0.820 0.863 0.903 0.939 0.973 0.996 0.997 0.995 0.989 0.979 0.968 0.961 0.960 0.963 0.969 0.977"/><feFuncG type="table" tableValues="0.150 0.165 0.182 0.198 0.215 0.234 0.256 0.278 0.301 0.323 0.345 0.367 0.389 0.412 0.436 0.460 0.485 0.507 0.529 0.550 0.570 0.590 0.609 0.628 0.646 0.663 0.680 0.695 0.708 0.720 0.731 0.741 0.750 0.758 0.767 0.776 0.784 0.792 0.797 0.801 0.803 0.802 0.799 0.794 0.788 0.779 0.770 0.760 0.750 0.741 0.733 0.729 0.730 0.743 0.766 0.789 0.814 0.839 0.864 0.889 0.913 0.937 0.961 0.984"/><feFuncB type="table" tableValues="0.660 0.708 0.751 0.795 0.836 0.871 0.899 0.922 0.941 0.958 0.972 0.983 0.991 0.995 0.999 0.997 0.989 0.980 0.968 0.952 0.936 0.922 0.908 0.897 0.888 0.876 0.860 0.839 0.816 0.792 0.766 0.739 0.712 0.684 0.655 0.625 0.592 0.557 0.519 0.479 0.435 0.391 0.348 0.304 0.261 0.223 0.191 0.165 0.153 0.160 0.177 0.210 0.239 0.237 0.220 0.203 0.189 0.177 0.164 0.154 0.142 0.127 0.106 0.081"/></feComponentTransfer><feColorMatrix in="n" type="matrix" values="0 0 1 0 0 0 0 1 0 0 0 0 1 0 0 0 0 0 0 1"/><feComponentTransfer><feFuncR type="table" tableValues="0.179 0.179 0.179 0.179 0.210 0.245 0.278 0.308 0.337 0.363 0.388 0.411 0.433 0.453 0.472 0.490 0.506 0.522 0.537 0.551 0.564 0.577 0.589 0.600 0.611 0.621 0.631 0.639 0.639 0.639 0.639"/><feFuncG type="table" tableValues="0.179 0.179 0.179 0.179 0.210 0.245 0.278 0.308 0.337 0.363 0.388 0.411 0.433 0.453 0.472 0.490 0.506 0.522 0.537 0.551 0.564 0.577 0.589 0.600 0.611 0.621 0.631 0.639 0.639 0.639 0.639"/><feFuncB type="table" tableValues="0.179 0.179 0.179 0.179 0.210 0.245 0.278 0.308 0.337 0.363 0.388 0.411 0.433 0.453 0.472 0.490 0.506 0.522 0.537 0.551 0.564 0.577 0.589 0.600 0.611 0.621 0.631 0.639 0.639 0.639 0.639"/></feComponentTransfer><feComposite in="m" operator="arithmetic" k1="2" k2="-1" k3="0" k4="0.5" result="q"/><feComposite in="l" in2="q" operator="arithmetic" k1="0" k2="1" k3="0.7059" k4="-0.3529"/><feComponentTransfer result="cB"><feFuncR type="table" tableValues="0.242 0.250 0.258 0.265 0.271 0.275 0.278 0.280 0.281 0.281 0.280 0.276 0.270 0.260 0.244 0.221 0.196 0.183 0.179 0.176 0.169 0.154 0.146 0.138 0.125 0.111 0.095 0.069 0.030 0.004 0.007 0.043 0.096 0.141 0.172 0.194 0.216 0.247 0.291 0.341 0.391 0.446 0.504 0.562 0.617 0.672 0.724 0.774 0.820 0.863 0.903 0.939 0.973 0.996 0.997 0.995 0.989 0.979 0.968 0.961 0.960 0.963 0.969 0.977"/><feFuncG type="table" tableValues="0.150 0.165 0.182 0.198 0.215 0.234 0.256 0.278 0.301 0.323 0.345 0.367 0.389 0.412 0.436 0.460 0.485 0.507 0.529 0.550 0.570 0.590 0.609 0.628 0.646 0.663 0.680 0.695 0.708 0.720 0.731 0.741 0.750 0.758 0.767 0.776 0.784 0.792 0.797 0.801 0.803 0.802 0.799 0.794 0.788 0.779 0.770 0.760 0.750 0.741 0.733 0.729 0.730 0.743 0.766 0.789 0.814 0.839 0.864 0.889 0.913 0.937 0.961 0.984"/><feFuncB type="table" tableValues="0.660 0.708 0.751 0.795 0.836 0.871 0.899 0.922 0.941 0.958 0.972 0.983 0.991 0.995 0.999 0.997 0.989 0.980 0.968 0.952 0.936 0.922 0.908 0.897 0.888 0.876 0.860 0.839 0.816 0.792 0.766 0.739 0.712 0.684 0.655 0.625 0.592 0.557 0.519 0.479 0.435 0.391 0.348 0.304 0.261 0.223 0.191 0.165 0.153 0.160 0.177 0.210 0.239 0.237 0.220 0.203 0.189 0.177 0.164 0.154 0.142 0.127 0.106 0.081"/></feComponentTransfer><feComposite in="cR" in2="cG" operator="arithmetic" k1="0" k2="0.5" k3="0.5" k4="0"/><feComposite in2="cB" operator="arithmetic" k1="0" k2="0.6667" k3="0.3333" k4="0"/><feGaussianBlur stdDeviation="0.45"/></filter>
<filter id="f5" x="0" y="0" width="1" height="1" filterUnits="objectBoundingBox" color-interpolation-filters="sRGB"><feTurbulence type="fractalNoise" baseFrequency="2.3 2.9" numOctaves="1" seed="38" result="n"/><feColorMatrix in="SourceGraphic" type="matrix" values="0 1 0 0 0 0 1 0 0 0 0 1 0 0 0 0 0 0 0 1" result="m"/><feColorMatrix in="SourceGraphic" type="matrix" values="1 0 0 0 0 1 0 0 0 0 1 0 0 0 0 0 0 0 0 1" result="l"/><feColorMatrix in="n" type="matrix" values="1 0 0 0 0 1 0 0 0 0 1 0 0 0 0 0 0 0 0 1"/><feComponentTransfer><feFuncR type="table" tableValues="0.179 0.179 0.179 0.179 0.210 0.245 0.278 0.308 0.337 0.363 0.388 0.411 0.433 0.453 0.472 0.490 0.506 0.522 0.537 0.551 0.564 0.577 0.589 0.600 0.611 0.621 0.631 0.639 0.639 0.639 0.639"/><feFuncG type="table" tableValues="0.179 0.179 0.179 0.179 0.210 0.245 0.278 0.308 0.337 0.363 0.388 0.411 0.433 0.453 0.472 0.490 0.506 0.522 0.537 0.551 0.564 0.577 0.589 0.600 0.611 0.621 0.631 0.639 0.639 0.639 0.639"/><feFuncB type="table" tableValues="0.179 0.179 0.179 0.179 0.210 0.245 0.278 0.308 0.337 0.363 0.388 0.411 0.433 0.453 0.472 0.490 0.506 0.522 0.537 0.551 0.564 0.577 0.589 0.600 0.611 0.621 0.631 0.639 0.639 0.639 0.639"/></feComponentTransfer><feComposite in="m" operator="arithmetic" k1="2" k2="-1" k3="0" k4="0.5" result="q"/><feComposite in="l" in2="q" operator="arithmetic" k1="0" k2="1" k3="0.7317" k4="-0.3659"/><feComponentTransfer result="cR"><feFuncR type="table" tableValues="0.242 0.250 0.258 0.265 0.271 0.275 0.278 0.280 0.281 0.281 0.280 0.276 0.270 0.260 0.244 0.221 0.196 0.183 0.179 0.176 0.169 0.154 0.146 0.138 0.125 0.111 0.095 0.069 0.030 0.004 0.007 0.043 0.096 0.141 0.172 0.194 0.216 0.247 0.291 0.341 0.391 0.446 0.504 0.562 0.617 0.672 0.724 0.774 0.820 0.863 0.903 0.939 0.973 0.996 0.997 0.995 0.989 0.979 0.968 0.961 0.960 0.963 0.969 0.977"/><feFuncG type="table" tableValues="0.150 0.165 0.182 0.198 0.215 0.234 0.256 0.278 0.301 0.323 0.345 0.367 0.389 0.412 0.436 0.460 0.485 0.507 0.529 0.550 0.570 0.590 0.609 0.628 0.646 0.663 0.680 0.695 0.708 0.720 0.731 0.741 0.750 0.758 0.767 0.776 0.784 0.792 0.797 0.801 0.803 0.802 0.799 0.794 0.788 0.779 0.770 0.760 0.750 0.741 0.733 0.729 0.730 0.743 0.766 0.789 0.814 0.839 0.864 0.889 0.913 0.937 0.961 0.984"/><feFuncB type="table" tableValues="0.660 0.708 0.751 0.795 0.836 0.871 0.899 0.922 0.941 0.958 0.972 0.983 0.991 0.995 0.999 0.997 0.989 0.980 0.968 0.952 0.936 0.922 0.908 0.897 0.888 0.876 0.860 0.839 0.816 0.792 0.766 0.739 0.712 0.684 0.655 0.625 0.592 0.557 0.519 0.479 0.435 0.391 0.348 0.304 0.261 0.223 0.191 0.165 0.153 0.160 0.177 0.210 0.239 0.237 0.220 0.203 0.189 0.177 0.164 0.154 0.142 0.127 0.106 0.081"/></feComponentTransfer><feColorMatrix in="n" type="matrix" values="0 1 0 0 0 0 1 0 0 0 0 1 0 0 0 0 0 0 0 1"/><feComponentTransfer><feFuncR type="table" tableValues="0.179 0.179 0.179 0.179 0.210 0.245 0.278 0.308 0.337 0.363 0.388 0.411 0.433 0.453 0.472 0.490 0.506 0.522 0.537 0.551 0.564 0.577 0.589 0.600 0.611 0.621 0.631 0.639 0.639 0.639 0.639"/><feFuncG type="table" tableValues="0.179 0.179 0.179 0.179 0.210 0.245 0.278 0.308 0.337 0.363 0.388 0.411 0.433 0.453 0.472 0.490 0.506 0.522 0.537 0.551 0.564 0.577 0.589 0.600 0.611 0.621 0.631 0.639 0.639 0.639 0.639"/><feFuncB type="table" tableValues="0.179 0.179 0.179 0.179 0.210 0.245 0.278 0.308 0.337 0.363 0.388 0.411 0.433 0.453 0.472 0.490 0.506 0.522 0.537 0.551 0.564 0.577 0.589 0.600 0.611 0.621 0.631 0.639 0.639 0.639 0.639"/></feComponentTransfer><feComposite in="m" operator="arithmetic" k1="2" k2="-1" k3="0" k4="0.5" result="q"/><feComposite in="l" in2="q" operator="arithmetic" k1="0" k2="1" k3="0.7317" k4="-0.3659"/><feComponentTransfer result="cG"><feFuncR type="table" tableValues="0.242 0.250 0.258 0.265 0.271 0.275 0.278 0.280 0.281 0.281 0.280 0.276 0.270 0.260 0.244 0.221 0.196 0.183 0.179 0.176 0.169 0.154 0.146 0.138 0.125 0.111 0.095 0.069 0.030 0.004 0.007 0.043 0.096 0.141 0.172 0.194 0.216 0.247 0.291 0.341 0.391 0.446 0.504 0.562 0.617 0.672 0.724 0.774 0.820 0.863 0.903 0.939 0.973 0.996 0.997 0.995 0.989 0.979 0.968 0.961 0.960 0.963 0.969 0.977"/><feFuncG type="table" tableValues="0.150 0.165 0.182 0.198 0.215 0.234 0.256 0.278 0.301 0.323 0.345 0.367 0.389 0.412 0.436 0.460 0.485 0.507 0.529 0.550 0.570 0.590 0.609 0.628 0.646 0.663 0.680 0.695 0.708 0.720 0.731 0.741 0.750 0.758 0.767 0.776 0.784 0.792 0.797 0.801 0.803 0.802 0.799 0.794 0.788 0.779 0.770 0.760 0.750 0.741 0.733 0.729 0.730 0.743 0.766 0.789 0.814 0.839 0.864 0.889 0.913 0.937 0.961 0.984"/><feFuncB type="table" tableValues="0.660 0.708 0.751 0.795 0.836 0.871 0.899 0.922 0.941 0.958 0.972 0.983 0.991 0.995 0.999 0.997 0.989 0.980 0.968 0.952 0.936 0.922 0.908 0.897 0.888 0.876 0.860 0.839 0.816 0.792 0.766 0.739 0.712 0.684 0.655 0.625 0.592 0.557 0.519 0.479 0.435 0.391 0.348 0.304 0.261 0.223 0.191 0.165 0.153 0.160 0.177 0.210 0.239 0.237 0.220 0.203 0.189 0.177 0.164 0.154 0.142 0.127 0.106 0.081"/></feComponentTransfer><feColorMatrix in="n" type="matrix" values="0 0 1 0 0 0 0 1 0 0 0 0 1 0 0 0 0 0 0 1"/><feComponentTransfer><feFuncR type="table" tableValues="0.179 0.179 0.179 0.179 0.210 0.245 0.278 0.308 0.337 0.363 0.388 0.411 0.433 0.453 0.472 0.490 0.506 0.522 0.537 0.551 0.564 0.577 0.589 0.600 0.611 0.621 0.631 0.639 0.639 0.639 0.639"/><feFuncG type="table" tableValues="0.179 0.179 0.179 0.179 0.210 0.245 0.278 0.308 0.337 0.363 0.388 0.411 0.433 0.453 0.472 0.490 0.506 0.522 0.537 0.551 0.564 0.577 0.589 0.600 0.611 0.621 0.631 0.639 0.639 0.639 0.639"/><feFuncB type="table" tableValues="0.179 0.179 0.179 0.179 0.210 0.245 0.278 0.308 0.337 0.363 0.388 0.411 0.433 0.453 0.472 0.490 0.506 0.522 0.537 0.551 0.564 0.577 0.589 0.600 0.611 0.621 0.631 0.639 0.639 0.639 0.639"/></feComponentTransfer><feComposite in="m" operator="arithmetic" k1="2" k2="-1" k3="0" k4="0.5" result="q"/><feComposite in="l" in2="q" operator="arithmetic" k1="0" k2="1" k3="0.7317" k4="-0.3659"/><feComponentTransfer result="cB"><feFuncR type="table" tableValues="0.242 0.250 0.258 0.265 0.271 0.275 0.278 0.280 0.281 0.281 0.280 0.276 0.270 0.260 0.244 0.221 0.196 0.183 0.179 0.176 0.169 0.154 0.146 0.138 0.125 0.111 0.095 0.069 0.030 0.004 0.007 0.043 0.096 0.141 0.172 0.194 0.216 0.247 0.291 0.341 0.391 0.446 0.504 0.562 0.617 0.672 0.724 0.774 0.820 0.863 0.903 0.939 0.973 0.996 0.997 0.995 0.989 0.979 0.968 0.961 0.960 0.963 0.969 0.977"/><feFuncG type="table" tableValues="0.150 0.165 0.182 0.198 0.215 0.234 0.256 0.278 0.301 0.323 0.345 0.367 0.389 0.412 0.436 0.460 0.485 0.507 0.529 0.550 0.570 0.590 0.609 0.628 0.646 0.663 0.680 0.695 0.708 0.720 0.731 0.741 0.750 0.758 0.767 0.776 0.784 0.792 0.797 0.801 0.803 0.802 0.799 0.794 0.788 0.779 0.770 0.760 0.750 0.741 0.733 0.729 0.730 0.743 0.766 0.789 0.814 0.839 0.864 0.889 0.913 0.937 0.961 0.984"/><feFuncB type="table" tableValues="0.660 0.708 0.751 0.795 0.836 0.871 0.899 0.922 0.941 0.958 0.972 0.983 0.991 0.995 0.999 0.997 0.989 0.980 0.968 0.952 0.936 0.922 0.908 0.897 0.888 0.876 0.860 0.839 0.816 0.792 0.766 0.739 0.712 0.684 0.655 0.625 0.592 0.557 0.519 0.479 0.435 0.391 0.348 0.304 0.261 0.223 0.191 0.165 0.153 0.160 0.177 0.210 0.239 0.237 0.220 0.203 0.189 0.177 0.164 0.154 0.142 0.127 0.106 0.081"/></feComponentTransfer><feComposite in="cR" in2="cG" operator="arithmetic" k1="0" k2="0.5" k3="0.5" k4="0"/><feComposite in2="cB" operator="arithmetic" k1="0" k2="0.6667" k3="0.3333" k4="0"/><feGaussianBlur stdDeviation="0.45"/></filter>
</defs>
<rect width="550" height="297" fill="#fff"/>
<g id="plot0">
<clipPath id="c0"><rect x="20.80" y="11.75" width="197.20" height="69.70"/></clipPath><g clip-path="url(#c0)"><g filter="url(#f0)"><rect x="17.00" y="8.00" width="205.00" height="77.00" fill="#ae8000"/><rect x="44.46" y="28.25" width="4.93" height="3.51" fill="#c49900"/><rect x="44.46" y="31.76" width="4.93" height="3.51" fill="#cf9900"/><rect x="44.46" y="35.28" width="4.93" height="10.18" fill="#dd9900"/><rect x="44.46" y="47.57" width="4.93" height="5.97" fill="#d99900"/><rect x="44.46" y="53.53" width="4.93" height="3.16" fill="#ce9900"/><rect x="44.46" y="56.70" width="4.93" height="3.51" fill="#c29900"/><rect x="61.62" y="28.25" width="23.07" height="3.51" fill="#c49900"/><rect x="61.62" y="31.76" width="23.07" height="3.51" fill="#cf9900"/><rect x="61.62" y="35.28" width="23.07" height="10.18" fill="#dd9900"/><rect x="61.62" y="47.57" width="23.07" height="5.97" fill="#d99900"/><rect x="61.62" y="53.53" width="23.07" height="3.16" fill="#ce9900"/><rect x="61.62" y="56.70" width="23.07" height="3.51" fill="#c29900"/></g></g>
<rect x="20.80" y="11.75" width="197.20" height="69.70" fill="none" stroke="#262626" stroke-width="0.5" stroke-opacity="0.55"/><path d="M40.52 81.45v-1.6M40.52 11.75v1.6M60.24 81.45v-1.6M60.24 11.75v1.6M79.96 81.45v-1.6M79.96 11.75v1.6M99.68 81.45v-1.6M99.68 11.75v1.6M119.40 81.45v-1.6M119.40 11.75v1.6M139.12 81.45v-1.6M139.12 11.75v1.6M158.84 81.45v-1.6M158.84 11.75v1.6M178.56 81.45v-1.6M178.56 11.75v1.6M198.28 81.45v-1.6M198.28 11.75v1.6M20.80 29.31h1.6M218.00 29.31h-1.6M20.80 46.86h1.6M218.00 46.86h-1.6M20.80 64.42h1.6M218.00 64.42h-1.6" stroke="#262626" stroke-width="0.5" stroke-opacity="0.6" fill="none"/>
<g font-size="5.3" text-anchor="middle"><text x="21.10" y="89.00">0</text><text x="40.82" y="89.00">10</text><text x="60.54" y="89.00">20</text><text x="80.26" y="89.00">30</text><text x="99.98" y="89.00">40</text><text x="119.70" y="89.00">50</text><text x="139.42" y="89.00">60</text><text x="159.14" y="89.00">70</text><text x="178.86" y="89.00">80</text><text x="198.58" y="89.00">90</text></g>
<g font-size="5.3" text-anchor="end"><text x="18.40" y="13.65">10</text><text x="18.40" y="31.21">5</text><text x="18.40" y="48.76">0</text><text x="18.40" y="66.32">-5</text></g>
<text x="119.40" y="97.20" font-size="6" text-anchor="middle">Time (s)</text><text x="119.40" y="8.60" font-size="6" font-weight="bold" text-anchor="middle" style="fill:#111">Spectrogram: Wifi</text><text transform="translate(10.20 46.60) rotate(-90)" font-size="6.3" text-anchor="middle">Frequency (Hz)</text>
<rect x="223.20" y="11.75" width="9.00" height="69.70" fill="url(#cb)" stroke="#262626" stroke-width="0.4" stroke-opacity="0.5"/><g font-size="4.8"><text x="234.60" y="22.84">-100</text><text x="234.60" y="33.66">-110</text><text x="234.60" y="44.49">-120</text><text x="234.60" y="55.31">-130</text><text x="234.60" y="66.13">-140</text><text x="234.60" y="76.96">-150</text></g><text transform="translate(251.90 45.50) rotate(-90)" font-size="4.8" text-anchor="middle">Power/frequency (dB/Hz)</text>
</g>
<g id="plot1">
<clipPath id="c1"><rect x="314.40" y="11.75" width="197.50" height="69.70"/></clipPath><g clip-path="url(#c1)"><g filter="url(#f1)"><rect x="311.00" y="8.00" width="205.00" height="77.00" fill="#ab8000"/><rect x="323.13" y="13.15" width="1.11" height="67.07" fill="#bbff00"/><rect x="355.32" y="13.15" width="1.11" height="67.07" fill="#c3ff00"/><rect x="358.88" y="13.15" width="1.11" height="67.07" fill="#beff00"/><rect x="367.57" y="13.15" width="1.11" height="67.07" fill="#c0ff00"/><rect x="395.81" y="13.15" width="1.11" height="67.07" fill="#bbff00"/><rect x="416.94" y="13.15" width="1.11" height="67.07" fill="#c5ff00"/><rect x="420.10" y="13.15" width="1.11" height="67.07" fill="#beff00"/><rect x="432.74" y="13.15" width="1.11" height="67.07" fill="#b4ff00"/><rect x="474.61" y="13.15" width="1.11" height="67.07" fill="#b6ff00"/><rect x="485.28" y="13.15" width="1.11" height="67.07" fill="#b2ff00"/><rect x="497.52" y="13.15" width="1.11" height="67.07" fill="#b4ff00"/></g></g>
<rect x="314.40" y="11.75" width="197.50" height="69.70" fill="none" stroke="#262626" stroke-width="0.5" stroke-opacity="0.55"/><path d="M334.15 81.45v-1.6M334.15 11.75v1.6M353.90 81.45v-1.6M353.90 11.75v1.6M373.65 81.45v-1.6M373.65 11.75v1.6M393.40 81.45v-1.6M393.40 11.75v1.6M413.15 81.45v-1.6M413.15 11.75v1.6M432.90 81.45v-1.6M432.90 11.75v1.6M452.65 81.45v-1.6M452.65 11.75v1.6M472.40 81.45v-1.6M472.40 11.75v1.6M492.15 81.45v-1.6M492.15 11.75v1.6M314.40 29.31h1.6M511.90 29.31h-1.6M314.40 46.86h1.6M511.90 46.86h-1.6M314.40 64.42h1.6M511.90 64.42h-1.6" stroke="#262626" stroke-width="0.5" stroke-opacity="0.6" fill="none"/>
<g font-size="5.3" text-anchor="middle"><text x="314.70" y="89.00">0</text><text x="334.45" y="89.00">10</text><text x="354.20" y="89.00">20</text><text x="373.95" y="89.00">30</text><text x="393.70" y="89.00">40</text><text x="413.45" y="89.00">50</text><text x="433.20" y="89.00">60</text><text x="452.95" y="89.00">70</text><text x="472.70" y="89.00">80</text><text x="492.45" y="89.00">90</text></g>
<g font-size="5.3" text-anchor="end"><text x="312.00" y="13.65">10</text><text x="312.00" y="31.21">5</text><text x="312.00" y="48.76">0</text><text x="312.00" y="66.32">-5</text></g>
<text x="413.15" y="97.20" font-size="6" text-anchor="middle">Time (s)</text><text x="413.15" y="8.60" font-size="6" font-weight="bold" text-anchor="middle" style="fill:#111">Spectrogram: Bebop</text><text transform="translate(303.80 46.60) rotate(-90)" font-size="6.3" text-anchor="middle">Frequency (Hz)</text>
<rect x="516.50" y="11.75" width="9.00" height="69.70" fill="url(#cb)" stroke="#262626" stroke-width="0.4" stroke-opacity="0.5"/><g font-size="4.8"><text x="527.90" y="25.50">-110</text><text x="527.90" y="37.90">-120</text><text x="527.90" y="50.31">-130</text><text x="527.90" y="62.71">-140</text><text x="527.90" y="75.11">-150</text></g><text transform="translate(545.20 45.50) rotate(-90)" font-size="4.8" text-anchor="middle">Power/frequency (dB/Hz)</text>
</g>
<g id="plot2">
<clipPath id="c2"><rect x="20.80" y="109.15" width="197.20" height="69.60"/></clipPath><g clip-path="url(#c2)"><g filter="url(#f2)"><rect x="17.00" y="106.00" width="205.00" height="77.00" fill="#aa8000"/><rect x="20.80" y="122.47" width="17.45" height="32.61" fill="#debf00"/><rect x="46.14" y="122.47" width="19.92" height="32.61" fill="#debf00"/><rect x="73.95" y="122.47" width="19.92" height="32.61" fill="#debf00"/><rect x="101.75" y="122.47" width="19.92" height="32.61" fill="#debf00"/><rect x="129.56" y="122.47" width="19.92" height="32.61" fill="#debf00"/><rect x="157.36" y="122.47" width="19.92" height="32.61" fill="#debf00"/><rect x="185.17" y="122.47" width="19.92" height="32.61" fill="#debf00"/><rect x="212.97" y="122.47" width="5.03" height="32.61" fill="#debf00"/></g></g>
<rect x="20.80" y="109.15" width="197.20" height="69.60" fill="none" stroke="#262626" stroke-width="0.5" stroke-opacity="0.55"/><path d="M40.52 178.75v-1.6M40.52 109.15v1.6M60.24 178.75v-1.6M60.24 109.15v1.6M79.96 178.75v-1.6M79.96 109.15v1.6M99.68 178.75v-1.6M99.68 109.15v1.6M119.40 178.75v-1.6M119.40 109.15v1.6M139.12 178.75v-1.6M139.12 109.15v1.6M158.84 178.75v-1.6M158.84 109.15v1.6M178.56 178.75v-1.6M178.56 109.15v1.6M198.28 178.75v-1.6M198.28 109.15v1.6M20.80 126.68h1.6M218.00 126.68h-1.6M20.80 144.21h1.6M218.00 144.21h-1.6M20.80 161.74h1.6M218.00 161.74h-1.6" stroke="#262626" stroke-width="0.5" stroke-opacity="0.6" fill="none"/>
<g font-size="5.3" text-anchor="middle"><text x="21.10" y="186.30">0</text><text x="40.82" y="186.30">10</text><text x="60.54" y="186.30">20</text><text x="80.26" y="186.30">30</text><text x="99.98" y="186.30">40</text><text x="119.70" y="186.30">50</text><text x="139.42" y="186.30">60</text><text x="159.14" y="186.30">70</text><text x="178.86" y="186.30">80</text><text x="198.58" y="186.30">90</text></g>
<g font-size="5.3" text-anchor="end"><text x="18.40" y="111.05">10</text><text x="18.40" y="128.58">5</text><text x="18.40" y="146.11">0</text><text x="18.40" y="163.64">-5</text></g>
<text x="119.40" y="194.50" font-size="6" text-anchor="middle">Time (s)</text><text x="119.40" y="106.00" font-size="6" font-weight="bold" text-anchor="middle" style="fill:#111">Spectrogram: Phantom 4</text><text transform="translate(10.20 143.95) rotate(-90)" font-size="6.3" text-anchor="middle">Frequency (Hz)</text>
<rect x="223.20" y="109.15" width="9.00" height="69.60" fill="url(#cb)" stroke="#262626" stroke-width="0.4" stroke-opacity="0.5"/><g font-size="4.8"><text x="234.60" y="112.80">-100</text><text x="234.60" y="124.88">-110</text><text x="234.60" y="136.96">-120</text><text x="234.60" y="149.05">-130</text><text x="234.60" y="161.13">-140</text><text x="234.60" y="173.21">-150</text></g><text transform="translate(251.90 142.85) rotate(-90)" font-size="4.8" text-anchor="middle">Power/frequency (dB/Hz)</text>
</g>
<g id="plot3">
<clipPath id="c3"><rect x="314.40" y="109.15" width="197.50" height="69.60"/></clipPath><g clip-path="url(#c3)"><g filter="url(#f3)"><rect x="311.00" y="106.00" width="205.00" height="77.00" fill="#ba8000"/><rect x="314.40" y="112.66" width="2.17" height="63.46" fill="#d9d900"/><rect x="318.94" y="112.66" width="10.66" height="63.46" fill="#d9d900"/><rect x="332.37" y="112.66" width="4.74" height="63.46" fill="#d9d900"/><rect x="338.50" y="112.66" width="10.66" height="63.46" fill="#d9d900"/><rect x="351.13" y="112.66" width="6.12" height="63.46" fill="#d9d900"/><rect x="360.61" y="112.66" width="8.69" height="63.46" fill="#d9d900"/><rect x="370.69" y="112.66" width="5.53" height="63.46" fill="#d9d900"/><rect x="378.00" y="112.66" width="11.26" height="63.46" fill="#d9d900"/><rect x="390.63" y="112.66" width="5.93" height="63.46" fill="#d9d900"/><rect x="397.94" y="112.66" width="12.25" height="63.46" fill="#d9d900"/><rect x="412.16" y="112.66" width="3.36" height="63.46" fill="#d9d900"/><rect x="416.70" y="112.66" width="12.84" height="63.46" fill="#d9d900"/><rect x="430.92" y="112.66" width="1.98" height="63.46" fill="#d9d900"/><rect x="434.88" y="112.66" width="12.64" height="63.46" fill="#d9d900"/><rect x="448.90" y="112.66" width="7.51" height="63.46" fill="#d9d900"/><rect x="458.38" y="112.66" width="8.89" height="63.46" fill="#d9d900"/><rect x="469.44" y="112.66" width="6.12" height="63.46" fill="#d9d900"/><rect x="477.14" y="112.66" width="9.88" height="63.46" fill="#d9d900"/><rect x="488.40" y="112.66" width="6.12" height="63.46" fill="#d9d900"/><rect x="496.30" y="112.66" width="10.47" height="63.46" fill="#d9d900"/><rect x="508.15" y="112.66" width="2.57" height="63.46" fill="#d9d900"/></g></g>
<rect x="314.40" y="109.15" width="197.50" height="69.60" fill="none" stroke="#262626" stroke-width="0.5" stroke-opacity="0.55"/><path d="M334.15 178.75v-1.6M334.15 109.15v1.6M353.90 178.75v-1.6M353.90 109.15v1.6M373.65 178.75v-1.6M373.65 109.15v1.6M393.40 178.75v-1.6M393.40 109.15v1.6M413.15 178.75v-1.6M413.15 109.15v1.6M432.90 178.75v-1.6M432.90 109.15v1.6M452.65 178.75v-1.6M452.65 109.15v1.6M472.40 178.75v-1.6M472.40 109.15v1.6M492.15 178.75v-1.6M492.15 109.15v1.6M314.40 126.68h1.6M511.90 126.68h-1.6M314.40 144.21h1.6M511.90 144.21h-1.6M314.40 161.74h1.6M511.90 161.74h-1.6" stroke="#262626" stroke-width="0.5" stroke-opacity="0.6" fill="none"/>
<g font-size="5.3" text-anchor="middle"><text x="314.70" y="186.30">0</text><text x="334.45" y="186.30">10</text><text x="354.20" y="186.30">20</text><text x="373.95" y="186.30">30</text><text x="393.70" y="186.30">40</text><text x="413.45" y="186.30">50</text><text x="433.20" y="186.30">60</text><text x="452.95" y="186.30">70</text><text x="472.70" y="186.30">80</text><text x="492.45" y="186.30">90</text></g>
<g font-size="5.3" text-anchor="end"><text x="312.00" y="111.05">10</text><text x="312.00" y="128.58">5</text><text x="312.00" y="146.11">0</text><text x="312.00" y="163.64">-5</text></g>
<text x="413.15" y="194.50" font-size="6" text-anchor="middle">Time (s)</text><text x="413.15" y="106.00" font-size="6" font-weight="bold" text-anchor="middle" style="fill:#111">Spectrogram: Mavic 2</text><text transform="translate(303.80 143.95) rotate(-90)" font-size="6.3" text-anchor="middle">Frequency (Hz)</text>
<rect x="516.50" y="109.15" width="9.00" height="69.60" fill="url(#cb)" stroke="#262626" stroke-width="0.4" stroke-opacity="0.5"/><g font-size="4.8"><text x="527.90" y="122.86">-100</text><text x="527.90" y="143.64">-120</text><text x="527.90" y="164.41">-140</text></g><text transform="translate(545.20 142.85) rotate(-90)" font-size="4.8" text-anchor="middle">Power/frequency (dB/Hz)</text>
</g>
<g id="plot4">
<clipPath id="c4"><rect x="20.80" y="206.35" width="197.20" height="69.70"/></clipPath><g clip-path="url(#c4)"><g filter="url(#f4)"><rect x="17.00" y="203.00" width="205.00" height="77.00" fill="#9a8000"/><rect x="65.37" y="239.18" width="1.18" height="4.21" fill="#b28000"/><rect x="72.66" y="239.18" width="1.18" height="4.21" fill="#b28000"/><rect x="127.88" y="239.18" width="1.18" height="4.21" fill="#aa8000"/><rect x="135.96" y="239.18" width="1.18" height="4.21" fill="#aa8000"/><rect x="190.98" y="239.18" width="1.18" height="4.21" fill="#aa8000"/><rect x="198.67" y="239.18" width="1.18" height="4.21" fill="#aa8000"/></g></g>
<rect x="20.80" y="206.35" width="197.20" height="69.70" fill="none" stroke="#262626" stroke-width="0.5" stroke-opacity="0.55"/><path d="M40.52 276.05v-1.6M40.52 206.35v1.6M60.24 276.05v-1.6M60.24 206.35v1.6M79.96 276.05v-1.6M79.96 206.35v1.6M99.68 276.05v-1.6M99.68 206.35v1.6M119.40 276.05v-1.6M119.40 206.35v1.6M139.12 276.05v-1.6M139.12 206.35v1.6M158.84 276.05v-1.6M158.84 206.35v1.6M178.56 276.05v-1.6M178.56 206.35v1.6M198.28 276.05v-1.6M198.28 206.35v1.6M20.80 223.91h1.6M218.00 223.91h-1.6M20.80 241.46h1.6M218.00 241.46h-1.6M20.80 259.02h1.6M218.00 259.02h-1.6" stroke="#262626" stroke-width="0.5" stroke-opacity="0.6" fill="none"/>
<g font-size="5.3" text-anchor="middle"><text x="21.10" y="283.60">0</text><text x="40.82" y="283.60">10</text><text x="60.54" y="283.60">20</text><text x="80.26" y="283.60">30</text><text x="99.98" y="283.60">40</text><text x="119.70" y="283.60">50</text><text x="139.42" y="283.60">60</text><text x="159.14" y="283.60">70</text><text x="178.86" y="283.60">80</text><text x="198.58" y="283.60">90</text></g>
<g font-size="5.3" text-anchor="end"><text x="18.40" y="208.25">10</text><text x="18.40" y="225.81">5</text><text x="18.40" y="243.36">0</text><text x="18.40" y="260.92">-5</text></g>
<text x="119.40" y="291.80" font-size="6" text-anchor="middle">Time (s)</text><text x="119.40" y="203.20" font-size="6" font-weight="bold" text-anchor="middle" style="fill:#111">Spectrogram: Syma</text><text transform="translate(10.20 241.20) rotate(-90)" font-size="6.3" text-anchor="middle">Frequency (Hz)</text>
<rect x="223.20" y="206.35" width="9.00" height="69.70" fill="url(#cb)" stroke="#262626" stroke-width="0.4" stroke-opacity="0.5"/><g font-size="4.8"><text x="234.60" y="215.74">-80</text><text x="234.60" y="232.14">-100</text><text x="234.60" y="248.54">-120</text><text x="234.60" y="264.94">-140</text></g><text transform="translate(251.90 240.10) rotate(-90)" font-size="4.8" text-anchor="middle">Power/frequency (dB/Hz)</text>
</g>
<g id="plot5">
<clipPath id="c5"><rect x="314.40" y="206.35" width="197.50" height="69.70"/></clipPath><g clip-path="url(#c5)"><g filter="url(#f5)"><rect x="311.00" y="203.00" width="205.00" height="77.00" fill="#b68000"/><rect x="349.26" y="211.27" width="1.09" height="57.23" fill="#cacc00"/><rect x="349.26" y="242.87" width="1.09" height="12.64" fill="#d0cc00"/><rect x="361.01" y="213.37" width="1.09" height="53.72" fill="#c5cc00"/><rect x="379.18" y="232.69" width="5.04" height="24.23" fill="#cebf00"/><rect x="401.79" y="213.37" width="0.89" height="56.18" fill="#c0bf00"/><rect x="487.41" y="209.86" width="0.99" height="63.20" fill="#bea600"/><rect x="497.48" y="206.70" width="4.54" height="68.82" fill="#c4a600"/><rect x="379.18" y="233.39" width="5.04" height="1.40" fill="#d4bf00"/><rect x="379.18" y="236.20" width="5.04" height="1.40" fill="#d4bf00"/><rect x="379.18" y="239.01" width="5.04" height="1.40" fill="#d4bf00"/><rect x="379.18" y="241.81" width="5.04" height="1.40" fill="#d4bf00"/><rect x="379.18" y="244.62" width="5.04" height="1.40" fill="#d4bf00"/><rect x="379.18" y="247.43" width="5.04" height="1.40" fill="#d4bf00"/><rect x="379.18" y="250.24" width="5.04" height="1.40" fill="#d4bf00"/><rect x="379.18" y="253.05" width="5.04" height="1.40" fill="#d4bf00"/><rect x="379.18" y="255.86" width="5.04" height="1.40" fill="#d4bf00"/></g></g>
<rect x="314.40" y="206.35" width="197.50" height="69.70" fill="none" stroke="#262626" stroke-width="0.5" stroke-opacity="0.55"/><path d="M334.15 276.05v-1.6M334.15 206.35v1.6M353.90 276.05v-1.6M353.90 206.35v1.6M373.65 276.05v-1.6M373.65 206.35v1.6M393.40 276.05v-1.6M393.40 206.35v1.6M413.15 276.05v-1.6M413.15 206.35v1.6M432.90 276.05v-1.6M432.90 206.35v1.6M452.65 276.05v-1.6M452.65 206.35v1.6M472.40 276.05v-1.6M472.40 206.35v1.6M492.15 276.05v-1.6M492.15 206.35v1.6M314.40 223.91h1.6M511.90 223.91h-1.6M314.40 241.46h1.6M511.90 241.46h-1.6M314.40 259.02h1.6M511.90 259.02h-1.6" stroke="#262626" stroke-width="0.5" stroke-opacity="0.6" fill="none"/>
<g font-size="5.3" text-anchor="middle"><text x="314.70" y="283.60">0</text><text x="334.45" y="283.60">10</text><text x="354.20" y="283.60">20</text><text x="373.95" y="283.60">30</text><text x="393.70" y="283.60">40</text><text x="413.45" y="283.60">50</text><text x="433.20" y="283.60">60</text><text x="452.95" y="283.60">70</text><text x="472.70" y="283.60">80</text><text x="492.45" y="283.60">90</text></g>
<g font-size="5.3" text-anchor="end"><text x="312.00" y="208.25">10</text><text x="312.00" y="225.81">5</text><text x="312.00" y="243.36">0</text><text x="312.00" y="260.92">-5</text></g>
<text x="413.15" y="291.80" font-size="6" text-anchor="middle">Time (s)</text><text x="413.15" y="203.20" font-size="6" font-weight="bold" text-anchor="middle" style="fill:#111">Spectrogram: Anafi</text><text transform="translate(303.80 241.20) rotate(-90)" font-size="6.3" text-anchor="middle">Frequency (Hz)</text>
<rect x="516.50" y="206.35" width="9.00" height="69.70" fill="url(#cb)" stroke="#262626" stroke-width="0.4" stroke-opacity="0.5"/><g font-size="4.8"><text x="527.90" y="217.56">-80</text><text x="527.90" y="234.56">-100</text><text x="527.90" y="251.56">-120</text><text x="527.90" y="268.56">-140</text></g><text transform="translate(545.20 240.10) rotate(-90)" font-size="4.8" text-anchor="middle">Power/frequency (dB/Hz)</text>
</g>
</svg>
</body></html>
